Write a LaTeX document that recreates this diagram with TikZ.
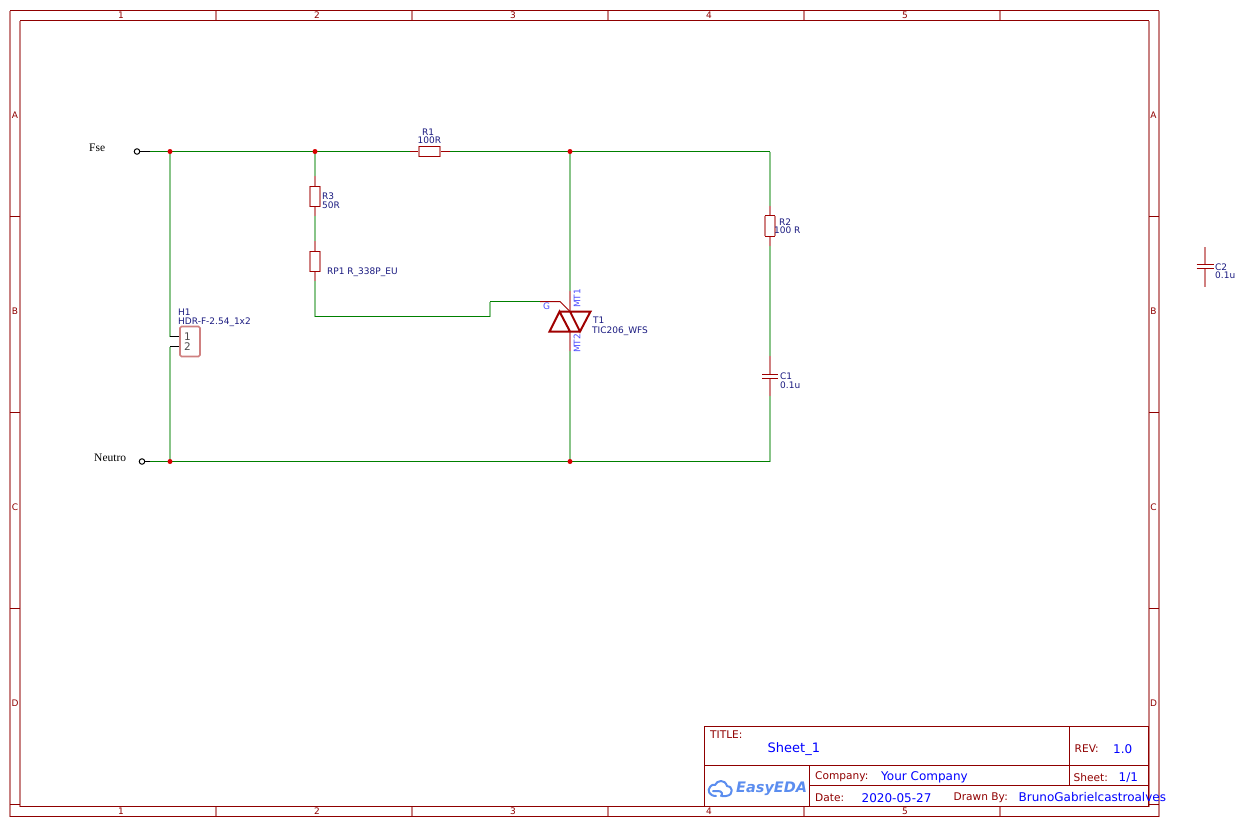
\documentclass[tikz,border=0pt]{standalone}
\usepackage{fontspec}
\setmainfont{DejaVu Sans}
\newfontfamily\netfont{Liberation Serif}
\definecolor{framered}{HTML}{8F0000}
\definecolor{framepale}{HTML}{C88080}
\definecolor{partred}{HTML}{A00000}
\definecolor{partpale}{HTML}{D08080}
\definecolor{wiregreen}{HTML}{008000}
\definecolor{wirepale}{HTML}{88C488}
\definecolor{partnavy}{HTML}{1A1A80}
\definecolor{sheetblue}{HTML}{0000FF}
\definecolor{logoblue}{HTML}{5B8DEF}
\tikzset{
  frameline/.style={draw=framered, line width=1pt},
  framev/.style={draw=framepale, line width=2pt},
  wire/.style={draw=wiregreen, line width=1pt},
  wirev/.style={draw=wirepale, line width=2pt},
  lead/.style={draw=partred, line width=1pt},
  leadv/.style={draw=partpale, line width=2pt},
  pinline/.style={draw=black, line width=1pt},
  resbox/.style={inner sep=0pt, minimum width=10pt, minimum height=20pt},
  resboxh/.style={resbox, minimum width=20pt, minimum height=10pt},
  junction/.style={circle, fill=red!85!black, inner sep=0pt, minimum size=5pt},
  nettip/.style={circle, draw=black, fill=white, line width=1pt, inner sep=0pt, minimum size=5.5pt},
  txt/.style={anchor=west, inner sep=0pt, font=\fontsize{9}{9}\selectfont, text=partnavy},
  pintxt/.style={anchor=center, inner sep=0pt, font=\fontsize{9}{9}\selectfont, text=sheetblue!70!white},
  pinnum/.style={anchor=center, inner sep=0pt, font=\fontsize{10.5}{11}\selectfont, text=black!70},
  edgetxt/.style={anchor=center, inner sep=0pt, font=\fontsize{9}{9}\selectfont, text=framered},
  tag/.style={anchor=west, inner sep=0pt, font=\fontsize{10.6}{11}\selectfont, text=framered},
  val/.style={anchor=west, inner sep=0pt, font=\fontsize{12}{12}\selectfont, text=sheetblue},
  netname/.style={anchor=west, inner sep=0pt, font=\netfont\fontsize{11.5}{12}\selectfont, text=black}
}
\begin{document}
\begin{tikzpicture}[x=1pt, y=-1pt]
  \useasboundingbox (0, 0) rectangle (1243, 827);

  % 1. sheet frame
  \foreach \x in {10, 1159} {
    \draw[framev] (\x, 10.5) -- (\x, 816.5);
  }
  \foreach \x in {20, 1149} {
    \draw[framev] (\x, 20.5) -- (\x, 806.5);
  }
  \foreach \x in {216, 412, 608, 804, 1000} {
    \draw[framev] (\x, 10.5) -- ++(0, 10);
    \draw[framev] (\x, 806.5) -- ++(0, 10);
  }
  \draw[frameline] (10, 10.5) -- (1159, 10.5);
  \draw[frameline] (20, 20.5) -- (1149, 20.5);
  \draw[frameline] (20, 806.5) -- (1149, 806.5);
  \draw[frameline] (10, 816.5) -- (1159, 816.5);
  \foreach \y in {216.5, 412.5, 608.5, 804.5} {
    \draw[frameline] (10, \y) -- ++(10, 0);
    \draw[frameline] (1149, \y) -- ++(10, 0);
  }
  \foreach \x/\n [count=\k] in {121/1, 317/2, 513/3, 709/4, 905/5} {
    \node[edgetxt] (top\k) at (\x, 15.5) {\n};
    \node[edgetxt] (bot\k) at (\x, 811.5) {\n};
  }
  \foreach \y/\n in {115/A, 311/B, 507/C, 703/D} {
    \node[edgetxt] (left\n) at (15, \y) {\n};
    \node[edgetxt] (right\n) at (1153.5, \y) {\n};
  }

  % 2. title block
  \draw[frameline] (704.5, 726.5) rectangle (1148.5, 806.5);
  \draw[frameline] (704.5, 765.5) -- (1148.5, 765.5);
  \draw[frameline] (809.5, 785.5) -- (1148.5, 785.5);
  \draw[frameline] (809.5, 765.5) -- (809.5, 806.5);
  \draw[frameline] (1069.5, 726.5) -- (1069.5, 785.5);
  \node[tag] (titletag) at (710, 735) {TITLE:};
  \node[val, font=\fontsize{13}{13}\selectfont] (titleval) at (767.5, 749) {Sheet\_1};
  \node[tag] (revtag) at (1074.5, 749) {REV:};
  \node[val] (revval) at (1113, 749) {1.0};
  \node[tag] (companytag) at (815, 777) {Company:};
  \node[val] (companyval) at (881, 777) {Your Company};
  \node[tag] (sheettag) at (1073.5, 777.5) {Sheet:};
  \node[val] (sheetval) at (1118.5, 777.5) {1/1};
  \node[tag] (datetag) at (815, 798) {Date:};
  \node[val] (dateval) at (861.5, 798) {2020-05-27};
  \node[tag] (drawntag) at (953.5, 798) {Drawn By:};
  \node[val] (drawnval) at (1018.5, 797.5) {BrunoGabrielcastroalves};
  % logo
  \draw[draw=logoblue, line width=2pt, line cap=round, line join=round]
    (716, 796) .. controls (709, 796) and (707, 790) .. (710, 787)
    .. controls (712, 784) and (714, 785) .. (715, 785)
    .. controls (717, 780) and (725, 779) .. (727, 786)
    .. controls (732, 785) and (735, 795) .. (726, 796) -- (722, 796);
  \draw[draw=logoblue, line width=2pt, line cap=round] (713, 791) -- (718, 791)
    .. controls (722, 791) and (723, 794) .. (721, 796);
  \node[anchor=west, inner sep=0pt, font=\fontsize{14.5}{15}\bfseries\itshape\selectfont, text=logoblue] (logotxt) at (736, 789) {EasyEDA};

  % 3. points of the wiring
  \coordinate (fseend) at (150, 151.5);
  \coordinate (neutend) at (150, 461.5);
  \coordinate (topright) at (770, 151.5);
  \coordinate (botright) at (770, 461.5);
  \coordinate (j1) at (170, 151.5);
  \coordinate (j2) at (315, 151.5);
  \coordinate (j3) at (570, 151.5);
  \coordinate (j4) at (170, 461.5);
  \coordinate (j5) at (570, 461.5);
  \coordinate (r1w) at (410, 151.5);
  \coordinate (r1e) at (450, 151.5);
  \coordinate (r3n) at (315, 176);
  \coordinate (r3s) at (315, 216);
  \coordinate (rp1n) at (315, 241);
  \coordinate (rp1s) at (315, 281);
  \coordinate (r2n) at (770, 206);
  \coordinate (r2s) at (770, 246);
  \coordinate (c1n) at (770, 356);
  \coordinate (c1s) at (770, 396);
  \coordinate (c1u) at (770, 374.5);
  \coordinate (c1d) at (770, 378.5);
  \coordinate (c2n) at (1205, 247);
  \coordinate (c2s) at (1205, 287);
  \coordinate (c2u) at (1205, 264.5);
  \coordinate (c2d) at (1205, 268.5);
  \coordinate (tmt1) at (570, 291);
  \coordinate (tmt2) at (570, 351);
  \coordinate (ttop) at (570, 311.5);
  \coordinate (tbot) at (570, 331.5);
  \coordinate (tg) at (540, 301.5);
  \coordinate (tgb) at (560, 301.5);
  \coordinate (bend1) at (315, 316.5);
  \coordinate (bend2) at (490, 316.5);
  \coordinate (bend3) at (490, 301.5);
  \coordinate (h1p1) at (180, 336.5);
  \coordinate (h1p2) at (180, 346.5);
  \coordinate (h1w1) at (170, 336.5);
  \coordinate (h1w2) at (170, 346.5);

  \node[nettip] (fse) at (137, 151.5) {};
  \node[nettip] (neut) at (142, 461.5) {};

  % 4. wires
  \draw[wirev] (j1) -- (h1w1);
  \draw[wirev] (h1w2) -- (j4);
  \draw[wirev] (j2) -- (r3n);
  \draw[wirev] (r3s) -- (rp1n);
  \draw[wirev] (rp1s) -- (bend1);
  \draw[wirev] (bend2) -- (bend3);
  \draw[wirev] (j3) -- (tmt1);
  \draw[wirev] (tmt2) -- (j5);
  \draw[wirev] (topright) -- (r2n);
  \draw[wirev] (r2s) -- (c1n);
  \draw[wirev] (c1s) -- (botright);
  \draw[wire] (fseend) -- (j1) -- (j2) -- (r1w);
  \draw[wire] (r1e) -- (j3) -- (topright);
  \draw[wire] (neutend) -- (j4) -- (j5) -- (botright);
  \draw[wire] (bend1) -- (bend2);
  \draw[wire] (bend3) -- (tg);
  \draw[pinline] (fse) -- (fseend);
  \draw[pinline] (neut) -- (neutend);
  \draw[pinline] (h1w1) -- (h1p1);
  \draw[pinline] (h1w2) -- (h1p2);
  \node[netname] (fselabel) at (89, 148) {Fse};
  \node[netname] (neutlabel) at (94, 458) {Neutro};
  \foreach \j in {j1, j2, j3, j4, j5} {
    \node[junction] (dot\j) at (\j) {};
  }

  % 5. parts
  \node[resboxh] (R1) at (429.5, 151.5) {};
  \node[resbox] (R3) at (315, 196.5) {};
  \node[resbox] (RP1) at (315, 261.5) {};
  \node[resbox] (R2) at (770, 226) {};
  \draw[lead] (r1w) -- (R1.west) (R1.east) -- (r1e);
  \draw[leadv] (r3n) -- (R3.north) (R3.south) -- (r3s);
  \draw[leadv] (rp1n) -- (RP1.north) (RP1.south) -- (rp1s);
  \draw[leadv] (r2n) -- (R2.north) (R2.south) -- (r2s);
  \foreach \p in {R1, R3, RP1, R2} {
    \draw[leadv] (\p.north west) -- (\p.south west);
    \draw[leadv] (\p.north east) -- (\p.south east);
    \draw[lead] (\p.north west) -- (\p.north east);
    \draw[lead] (\p.south west) -- (\p.south east);
  }
  \draw[leadv] (c1n) -- (c1u) (c1d) -- (c1s);
  \draw[leadv] (c2n) -- (c2u) (c2d) -- (c2s);
  \draw[lead] ([xshift=-8pt]c1u) -- ([xshift=8pt]c1u);
  \draw[lead] ([xshift=-8pt]c1d) -- ([xshift=8pt]c1d);
  \draw[lead] ([xshift=-8.5pt]c2u) -- ([xshift=8.5pt]c2u);
  \draw[lead] ([xshift=-8.5pt]c2d) -- ([xshift=8.5pt]c2d);
  \node[draw=partpale, line width=1.6pt, rounded corners=1.5pt, inner sep=0pt, minimum width=20pt, minimum height=30pt] (H1) at (190, 341.5) {};
  \node[pinnum] (pin1) at (187.5, 336.5) {1};
  \node[pinnum] (pin2) at (187.5, 346.5) {2};

  % triac
  \draw[leadv] (tmt1) -- (ttop) (tbot) -- (tmt2);
  \draw[lead] (tg) -- (tgb) -- (ttop);
  \draw[draw=partred, line width=2pt, line join=miter]
    (559.5, 311.5) -- (590.5, 311.5) -- (580, 331.5) -- (570, 311.5)
    (580.5, 331.5) -- (549.5, 331.5) -- (559.5, 311.5) -- (570, 331.5);

  % 6. labels of the parts
  \node[txt] (r1name) at (422, 132.5) {R1};
  \node[txt] (r1val) at (417.5, 140.5) {100R};
  \node[txt] (r3name) at (322, 196.5) {R3};
  \node[txt] (r3val) at (322, 205) {50R};
  \node[txt] (rp1name) at (327, 272) {RP1 R\_338P\_EU};
  \node[txt] (r2name) at (779, 222) {R2};
  \node[txt] (r2val) at (774, 230) {100 R};
  \node[txt] (c1name) at (780, 376.5) {C1};
  \node[txt] (c1val) at (780, 385) {0.1u};
  \node[txt] (c2name) at (1215, 267) {C2};
  \node[txt] (c2val) at (1215, 275.5) {0.1u};
  \node[txt] (h1name) at (178, 312) {H1};
  \node[txt] (h1val) at (178, 322) {HDR-F-2.54\_1x2};
  \node[txt] (t1name) at (593, 320.5) {T1};
  \node[txt] (t1val) at (592, 331) {TIC206\_WFS};
  \node[pintxt] (gpin) at (546.5, 306.5) {G};
  \node[pintxt, rotate=90] (mt1pin) at (577, 298.5) {MT1};
  \node[pintxt, rotate=90] (mt2pin) at (577, 343.5) {MT2};
\end{tikzpicture}
\end{document}
